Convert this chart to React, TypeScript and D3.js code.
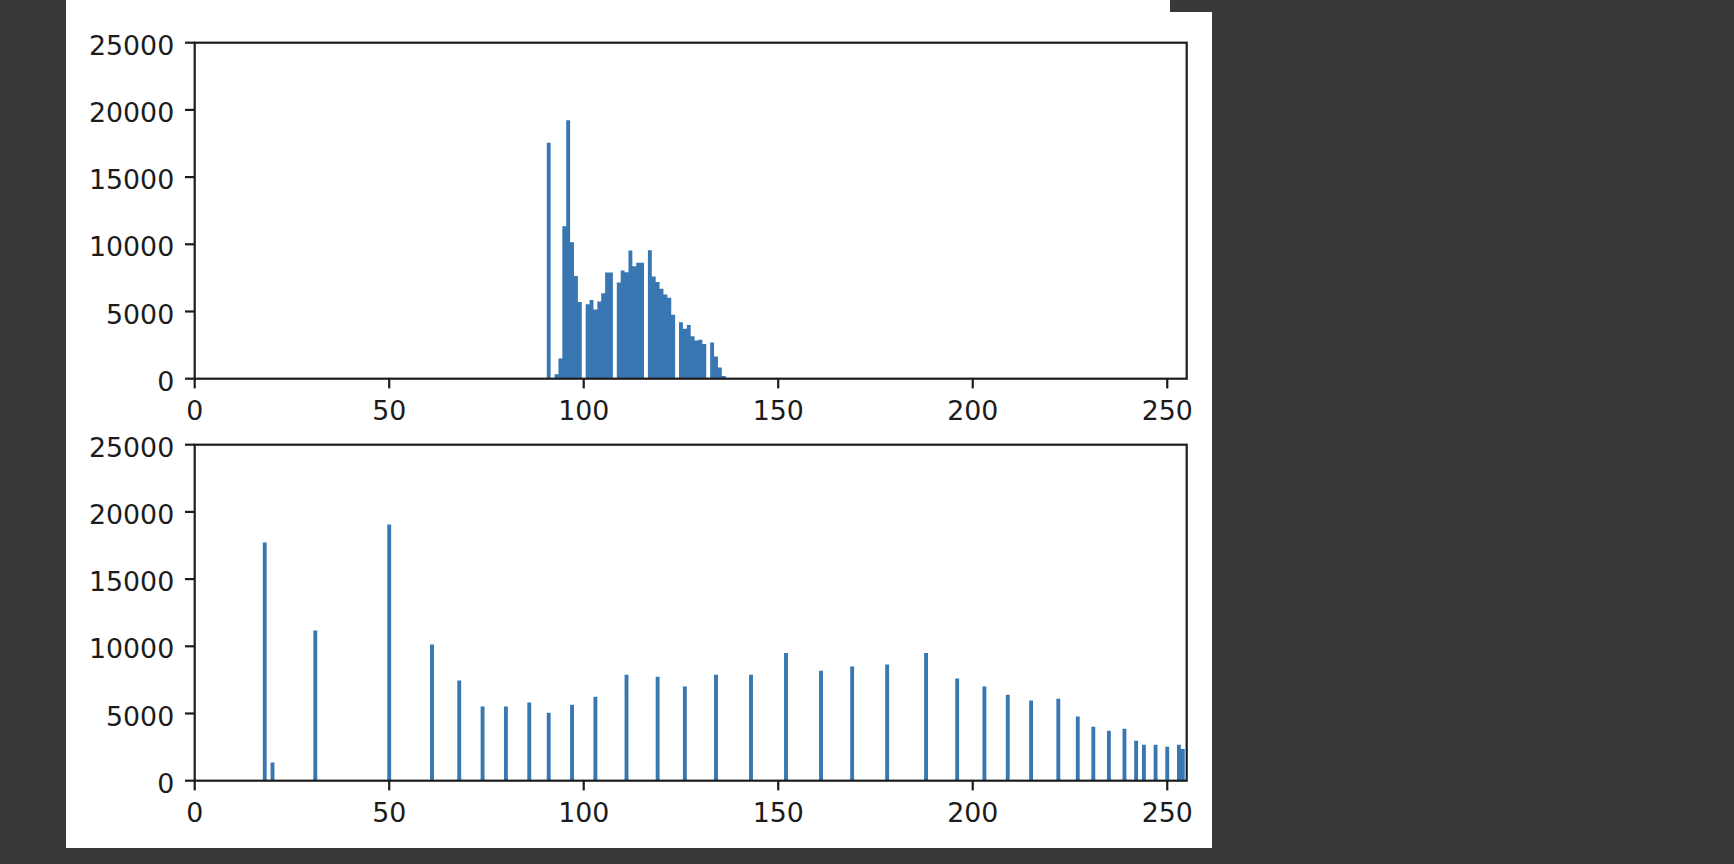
import React from "react";
import * as d3 from "d3";

// original grey-level histogram (one bin per integer level)
const origLevels = [
  91, 93, 94, 95, 96, 97, 98, 99, 101, 102, 103, 104, 105, 106, 107, 109, 110,
  111, 112, 113, 114, 115, 117, 118, 119, 120, 121, 122, 123, 125, 126, 127,
  128, 129, 130, 131, 133, 134, 135, 136,
];
const origCounts = [
  17560, 330, 1500, 11350, 19230, 10150, 7650, 5710, 5540, 5850, 5150, 5750,
  6350, 7900, 7900, 7150, 8050, 7920, 9540, 8360, 8630, 8630, 9550, 7610, 7190,
  6690, 6270, 6020, 4750, 4200, 3710, 4000, 3160, 2840, 2900, 2590, 2690, 1660,
  840, 200,
];

// histogram after equalisation
const eqLevels = [
  18, 20, 31, 50, 61, 68, 74, 80, 86, 91, 97, 103, 111, 119, 126, 134, 143,
  152, 161, 169, 178, 188, 196, 203, 209, 215, 222, 227, 231, 235, 239, 242,
  244, 247, 250, 253, 254,
];
const eqCounts = [
  17720, 1360, 11170, 19060, 10130, 7450, 5530, 5530, 5810, 5060, 5660, 6250,
  7890, 7740, 7000, 7890, 7890, 9500, 8190, 8490, 8640, 9500, 7600, 7000, 6400,
  5960, 6100, 4770, 4020, 3720, 3870, 2980, 2680, 2680, 2530, 2680, 2360,
];

const xTicks = [0, 50, 100, 150, 200, 250];
const yTicks = [0, 5000, 10000, 15000, 20000, 25000];

const W = 1734;
const H = 864;
const LEFT = 194.7;
const RIGHT = 1186.7;
const FONT = 26.8;
const BAR = "#3877b1";
const INK = "#1c1c1c";

interface PanelProps {
  id: string;
  levels: number[];
  counts: number[];
  top: number;
  bottom: number;
}

function Panel({ id, levels, counts, top, bottom }: PanelProps) {
  const x = d3.scaleLinear().domain([0, 255]).range([LEFT, RIGHT]);
  const y = d3.scaleLinear().domain([0, 25000]).range([bottom, top]);

  // all bars in one path so touching bins show no anti-alias seams
  const p = d3.path();
  levels.forEach((lv, i) => {
    const x0 = x(lv - 0.5);
    const x1 = x(lv + 0.5);
    p.rect(x0, y(counts[i]), x1 - x0, y(0) - y(counts[i]));
  });

  return (
    <g>
      <clipPath id={id}>
        <rect x={LEFT} y={top} width={RIGHT - LEFT} height={bottom - top} />
      </clipPath>
      <path d={p.toString()} fill={BAR} clipPath={`url(#${id})`} />
      {xTicks.map((t) => (
        <g key={"x" + t}>
          <line x1={x(t)} x2={x(t)} y1={bottom} y2={bottom + 9.7} stroke={INK} strokeWidth={2.2} />
          <text x={x(t)} y={bottom + 41.5} textAnchor="middle" fontSize={FONT} fill={INK}>
            {t}
          </text>
        </g>
      ))}
      {yTicks.map((t) => (
        <g key={"y" + t}>
          <line x1={LEFT - 9.7} x2={LEFT} y1={y(t)} y2={y(t)} stroke={INK} strokeWidth={2.2} />
          <text x={LEFT - 20.5} y={y(t) + 12} textAnchor="end" fontSize={FONT} fill={INK}>
            {t}
          </text>
        </g>
      ))}
      <rect
        x={LEFT}
        y={top}
        width={RIGHT - LEFT}
        height={bottom - top}
        fill="none"
        stroke={INK}
        strokeWidth={2.2}
      />
    </g>
  );
}

export default function App() {
  return (
    <svg
      width={W}
      height={H}
      style={{ position: "absolute", left: 0, top: 0, display: "block" }}
      fontFamily="'DejaVu Sans', sans-serif"
    >
      <rect width={W} height={H} fill="#383838" />
      <rect x={66} y={0} width={1104} height={12} fill="#fff" />
      <rect x={66} y={12} width={1146} height={836} fill="#fff" />
      <Panel id="c1" levels={origLevels} counts={origCounts} top={42.7} bottom={378.7} />
      <Panel id="c2" levels={eqLevels} counts={eqCounts} top={444.7} bottom={780.7} />
    </svg>
  );
}
